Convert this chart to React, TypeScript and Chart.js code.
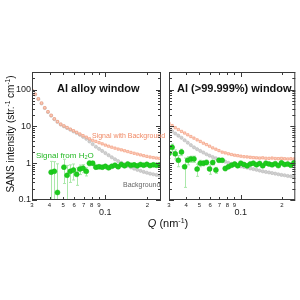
import React, { useEffect, useRef } from 'react';
import { Chart, registerables } from 'chart.js';

Chart.register(...registerables);

// ---------- data ----------
const Q = [
  0.0300, 0.0316, 0.0333, 0.0351, 0.0370, 0.0390, 0.0411, 0.0433, 0.0456, 0.0481,
  0.0507, 0.0534, 0.0563, 0.0593, 0.0625, 0.0659, 0.0694, 0.0732, 0.0771, 0.0813,
  0.0857, 0.0903, 0.0951, 0.1002, 0.1056, 0.1113, 0.1173, 0.1236, 0.1303, 0.1373,
  0.1447, 0.1525, 0.1607, 0.1693, 0.1785, 0.1881, 0.1982, 0.2089, 0.2201, 0.2320,
  0.2445,
];

// Al alloy window
const LEFT_SIGNAL_BG = [
  95, 75, 56, 43, 32, 25, 20, 16, 13.5, 11.5,
  10.3, 9.3, 8.4, 7.6, 6.9, 6.2, 5.6, 5.1, 4.6, 4.2,
  3.9, 3.6, 3.35, 3.1, 2.9, 2.72, 2.56, 2.42, 2.3, 2.18,
  2.07, 1.96, 1.86, 1.77, 1.68, 1.6, 1.53, 1.47, 1.42, 1.38,
  1.35,
];
const LEFT_BACKGROUND = [
  94, 74, 55, 42, 31.5, 24.5, 19.5, 15.7, 13.2, 11.2,
  10.0, 9.0, 8.1, 7.3, 6.6, 5.9, 5.2, 4.6, 3.9, 3.3,
  2.8, 2.45, 2.15, 1.88, 1.65, 1.45, 1.28, 1.14, 1.02, 0.92,
  0.84, 0.77, 0.71, 0.66, 0.62, 0.58, 0.55, 0.52, 0.5, 0.48,
  0.46,
];
const LEFT_H2O: (number | null)[] = [
  null, null, null, null, null, null, 0.57, 0.6, 0.16, null,
  0.78, 0.47, 0.6, 0.65, 0.5, 0.69, 0.73, 0.6, 1.0, 1.0,
  0.78, 0.8, 0.78, 0.82, 0.75, 0.82, 0.88, 0.8, 0.92, 0.85,
  0.95, 0.88, 0.9, 0.85, 0.92, 0.88, 0.93, 0.86, 0.9, 0.88,
  0.9,
];
const LEFT_H2O_ERR = [
  0, 0, 0, 0, 0, 0, 0.55, 0.5, 0.8, 0,
  0.5, 0.4, 0.3, 0.3, 0.25, 0.2, 0.18, 0.15, 0.15, 0.12,
  0.1, 0.09, 0.08, 0.08, 0.07, 0.07, 0.06, 0.06, 0.06, 0.05,
  0.05, 0.05, 0.05, 0.05, 0.05, 0.05, 0.05, 0.05, 0.05, 0.05,
  0.05,
];

// Al (>99.999%) window
const RIGHT_SIGNAL_BG = [
  12, 10.5, 9.2, 8.2, 7.3, 6.6, 5.9, 5.3, 4.8, 4.3,
  3.9, 3.5, 3.2, 2.9, 2.6, 2.4, 2.2, 2.0, 1.9, 1.8,
  1.72, 1.65, 1.6, 1.55, 1.5, 1.48, 1.45, 1.42, 1.4, 1.38,
  1.4, 1.36, 1.35, 1.38, 1.34, 1.33, 1.35, 1.32, 1.3, 1.32,
  1.3,
];
const RIGHT_BACKGROUND = [
  8.5, 7.4, 6.4, 5.6, 4.9, 4.2, 3.6, 3.1, 2.7, 2.4,
  2.15, 1.95, 1.75, 1.6, 1.47, 1.36, 1.26, 1.17, 1.1, 1.02,
  0.96, 0.9, 0.86, 0.82, 0.79, 0.76, 0.72, 0.69, 0.66, 0.63,
  0.6, 0.58, 0.56, 0.54, 0.52, 0.5, 0.48, 0.47, 0.45, 0.44,
  0.42,
];
const RIGHT_H2O: (number | null)[] = [
  1.85, 2.7, 1.8, 1.2, 2.0, 0.8, 1.2, 1.3, 1.3, 0.69,
  1.0, 1.0, 1.05, 0.7, 1.05, 0.65, 1.2, 1.2, 0.72, 0.8,
  0.88, 0.95, 0.85, 1.0, 0.92, 0.85, 0.95, 1.0, 0.9, 0.98,
  0.85, 1.0, 0.95, 0.9, 0.97, 0.86, 1.02, 0.92, 0.95, 0.88,
  1.02,
];
const RIGHT_H2O_ERR = [
  0.5, 0.6, 0.5, 0.4, 0.4, 0.58, 0.3, 0.25, 0.25, 0.25,
  0.2, 0.15, 0.15, 0.2, 0.15, 0.12, 0.12, 0.1, 0.1, 0.09,
  0.08, 0.08, 0.07, 0.07, 0.06, 0.06, 0.06, 0.05, 0.05, 0.05,
  0.05, 0.05, 0.05, 0.05, 0.05, 0.05, 0.05, 0.05, 0.05, 0.05,
  0.05,
];

const X_TICKS = [0.03, 0.04, 0.05, 0.06, 0.07, 0.08, 0.09, 0.1, 0.2];
const X_TICK_LABELS = ['3', '4', '5', '6', '7', '8', '9', '0.1', '2'];
const Y_TICKS = [0.1, 1, 10, 100];
const Y_TICK_LABELS = ['0.1', '1', '10', '100'];
const Y_MINOR_MULT = [1, 2, 3, 4, 5, 6, 7, 8, 9];
const Y_DECADES = [0.1, 1, 10, 100];
const X_MIN = 0.03, X_MAX = 0.25, Y_MIN = 0.1, Y_MAX = 300;

const FONT = "'Liberation Sans', Arial, Helvetica, sans-serif";
const TICK_FONT = "'Liberation Sans Narrow', 'Liberation Sans', Arial, sans-serif";
const FRAME = '#3a3a3a';

// ---------- plugins ----------
const frameTicks = {
  id: 'frameTicks',
  afterDraw(chart: any) {
    const { ctx, chartArea: a, scales } = chart;
    const xs = scales.x, ys = scales.y;
    ctx.save();
    ctx.strokeStyle = FRAME;
    ctx.lineWidth = 1;
    ctx.strokeRect(a.left + 0.5, a.top + 0.5, a.right - a.left - 1, a.bottom - a.top - 1);
    const seg = (x1: number, y1: number, x2: number, y2: number) => {
      ctx.beginPath(); ctx.moveTo(x1, y1); ctx.lineTo(x2, y2); ctx.stroke();
    };
    for (const d of Y_DECADES) {
      for (const m of Y_MINOR_MULT) {
        const v = d * m;
        if (v < Y_MIN || v > Y_MAX) continue;
        const py = Math.round(ys.getPixelForValue(v)) + 0.5;
        const L = m === 1 ? 4 : 2;
        seg(a.left, py, a.left + 1 + L, py);
        seg(a.right - 1 - L, py, a.right, py);
      }
    }
    for (const v of X_TICKS) {
      const px = Math.round(xs.getPixelForValue(v)) + 0.5;
      const L = v === 0.1 ? 4 : 2;
      seg(px, a.bottom, px, a.bottom - 1 - L);
      seg(px, a.top, px, a.top + 1 + L);
    }
    ctx.restore();
  },
};

const errorBars = {
  id: 'errorBars',
  beforeDatasetDraw(chart: any, args: any) {
    const ds = chart.data.datasets[args.index];
    if (!ds.errors) return;
    const { ctx, chartArea: a, scales } = chart;
    ctx.save();
    ctx.beginPath();
    ctx.rect(a.left, a.top, a.right - a.left, a.bottom - a.top);
    ctx.clip();
    ctx.strokeStyle = '#abe8ab';
    ctx.lineWidth = 1;
    ds.data.forEach((p: any, i: number) => {
      const e = ds.errors[i];
      if (!e) return;
      const px = Math.round(scales.x.getPixelForValue(p.x)) + 0.5;
      const lo = p.y - e > Y_MIN ? scales.y.getPixelForValue(p.y - e) : a.bottom;
      const hi = scales.y.getPixelForValue(p.y + e);
      ctx.beginPath();
      ctx.moveTo(px, lo); ctx.lineTo(px, hi);
      ctx.moveTo(px - 1.5, hi); ctx.lineTo(px + 1.5, hi);
      if (lo < a.bottom) { ctx.moveTo(px - 1.5, lo); ctx.lineTo(px + 1.5, lo); }
      ctx.stroke();
    });
    ctx.restore();
  },
};

function makeData(h2o: (number | null)[], err: number[], sig: number[], bg: number[]) {
  const pts: any[] = [];
  const errs: number[] = [];
  Q.forEach((q, i) => {
    if (h2o[i] != null) { pts.push({ x: q, y: h2o[i] }); errs.push(err[i]); }
  });
  return {
    datasets: [
      {
        label: 'Signal from H2O', data: pts, errors: errs,
        pointStyle: 'circle', pointRadius: 2.5, backgroundColor: '#1ccc1c', borderColor: '#16b816', borderWidth: 0.5,
      },
      {
        label: 'Signal with Background', data: Q.map((q, i) => ({ x: q, y: sig[i] })),
        pointStyle: 'rect', pointRadius: 1.6, backgroundColor: '#fcd3c4', borderColor: '#f39c7c', borderWidth: 0.7,
      },
      {
        label: 'Background', data: Q.map((q, i) => ({ x: q, y: bg[i] })),
        pointStyle: 'circle', pointRadius: 1.6, backgroundColor: '#d0d0d0', borderColor: '#b9b9b9', borderWidth: 0.6,
      },
    ],
  };
}

function makeOptions(showY: boolean, yWidth: number, rightPad: number) {
  return {
    animation: false,
    responsive: false,
    maintainAspectRatio: false,
    events: [],
    layout: { padding: { top: 10, right: rightPad, left: 0, bottom: 0 } },
    plugins: { legend: { display: false }, tooltip: { enabled: false }, title: { display: false } },
    scales: {
      x: {
        type: 'logarithmic', min: X_MIN, max: X_MAX, position: 'bottom',
        grid: { display: false, drawTicks: false }, border: { display: false },
        afterBuildTicks: (s: any) => { s.ticks = X_TICKS.map((v) => ({ value: v })); },
        afterFit: (s: any) => { s.height = 20; },
        ticks: {
          autoSkip: false, maxRotation: 0, minRotation: 0, padding: 2, color: '#222',
          callback: (_v: any, i: number) => (X_TICKS[i] === 0.1 ? ['', X_TICK_LABELS[i]] : X_TICK_LABELS[i]),
          font: (c: any) => (c.tick && c.tick.value === 0.1
            ? { family: TICK_FONT, size: 9, lineHeight: 0.75 }
            : { family: TICK_FONT, size: 6, lineHeight: 1.1 }),
        },
      },
      y: {
        type: 'logarithmic', min: Y_MIN, max: Y_MAX, position: 'left',
        grid: { display: false, drawTicks: false }, border: { display: false },
        afterBuildTicks: (s: any) => { s.ticks = Y_TICKS.map((v) => ({ value: v })); },
        afterFit: (s: any) => { s.width = yWidth; },
        ticks: {
          display: showY, padding: 1, color: '#222',
          callback: (_v: any, i: number) => Y_TICK_LABELS[i],
          font: { family: TICK_FONT, size: 9 },
        },
      },
    },
  };
}

const abs = (left: number, top: number, extra: any = {}) => ({
  position: 'absolute' as const, left, top, whiteSpace: 'nowrap' as const, margin: 0, ...extra,
});

export default function App() {
  const leftRef = useRef<HTMLCanvasElement>(null);
  const rightRef = useRef<HTMLCanvasElement>(null);

  useEffect(() => {
    const c1 = new Chart(leftRef.current as HTMLCanvasElement, {
      type: 'scatter',
      data: makeData(LEFT_H2O, LEFT_H2O_ERR, LEFT_SIGNAL_BG, LEFT_BACKGROUND) as any,
      options: makeOptions(true, 32, 5) as any,
      plugins: [errorBars, frameTicks],
    });
    const c2 = new Chart(rightRef.current as HTMLCanvasElement, {
      type: 'scatter',
      data: makeData(RIGHT_H2O, RIGHT_H2O_ERR, RIGHT_SIGNAL_BG, RIGHT_BACKGROUND) as any,
      options: makeOptions(false, 5, 3) as any,
      plugins: [errorBars, frameTicks],
    });
    return () => { c1.destroy(); c2.destroy(); };
  }, []);

  return (
    <div style={{ position: 'absolute', left: 0, top: 0, width: 300, height: 300, background: '#fff', fontFamily: FONT, overflow: 'hidden' }}>
      <canvas ref={leftRef} width={166} height={158} style={{ position: 'absolute', left: 0, top: 62 }} />
      <canvas ref={rightRef} width={136} height={158} style={{ position: 'absolute', left: 164, top: 62 }} />

      <div style={abs(57, 82.5, { fontSize: 11, lineHeight: '11px', fontWeight: 'bold', color: '#111' })}>Al alloy window</div>
      <div style={abs(177, 82.5, { fontSize: 11, lineHeight: '11px', fontWeight: 'bold', color: '#111' })}>Al (&gt;99.999%) window</div>

      <div style={abs(92, 131.5, { fontSize: 7, lineHeight: '7px', color: '#f08a66' })}>Signal with Background</div>
      <div style={abs(123, 180.5, { fontSize: 7, lineHeight: '7px', color: '#666' })}>Background</div>
      <div style={abs(36, 152, { fontSize: 8, lineHeight: '8px', color: '#22b822' })}>
        Signal from H<sub style={{ fontSize: 5.5, verticalAlign: '-1px', lineHeight: 0 }}>2</sub>O
      </div>

      <div style={abs(168, 218, { fontSize: 11, lineHeight: '11px', color: '#111', transform: 'translateX(-50%)' })}>
        <i>Q</i> (nm<sup style={{ fontSize: 7, lineHeight: 0, verticalAlign: '4px' }}>-1</sup>)
      </div>
      <div style={abs(11, 134, { fontSize: 10, lineHeight: '10px', color: '#111', transform: 'translate(-50%, -50%) rotate(-90deg)' })}>
        SANS intensity (str.<sup style={{ fontSize: 6.5, lineHeight: 0, verticalAlign: '4px' }}>-1</sup> cm<sup style={{ fontSize: 6.5, lineHeight: 0, verticalAlign: '4px' }}>-1</sup>)
      </div>
    </div>
  );
}
